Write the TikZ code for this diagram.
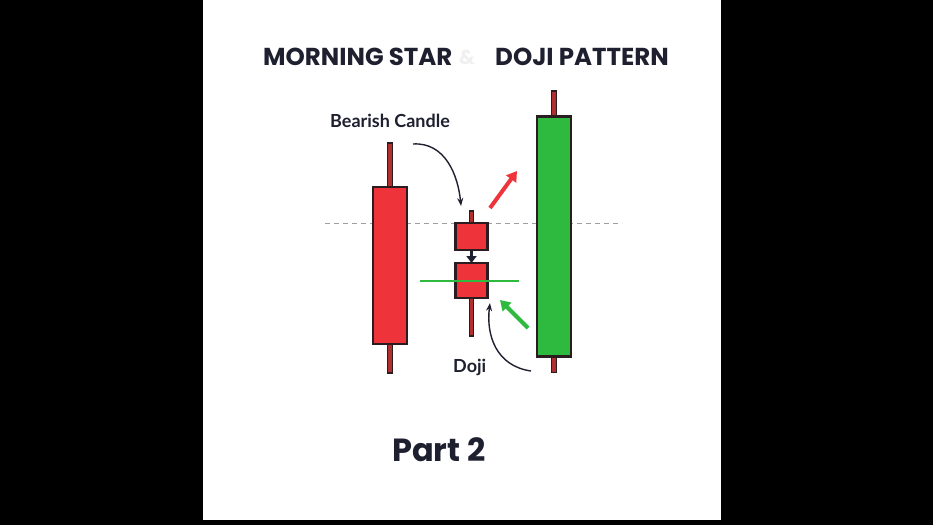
\documentclass[tikz,border=0pt]{standalone}
\usepackage{fontspec}
\usetikzlibrary{arrows.meta}
\newfontfamily\titlefont{Poppins}
\newfontfamily\labfont{Lato}
\definecolor{cred}{HTML}{EE343A}
\definecolor{cgreen}{HTML}{2DBA3E}
\definecolor{cout}{HTML}{2A1C1F}
\definecolor{ink}{HTML}{1E2030}
\definecolor{wickred}{HTML}{B0302F}
\definecolor{faint}{HTML}{F0F0F2}
\tikzset{
  body/.style={draw=cout, line width=2.2pt, inner sep=0pt, outer sep=0pt},
  wick/.style={draw=cout, line width=1.2pt, fill=wickred},
  title/.style={font=\titlefont\bfseries\fontsize{24.5}{28}\selectfont, text=ink, anchor=base west, inner sep=0pt},
  lab/.style={font=\labfont\bfseries\fontsize{18}{20}\selectfont, text=ink, anchor=base west, inner sep=0pt},
  bigarrow/.style={line width=4pt, -{Triangle[length=10pt,width=12pt]}},
  curvearrow/.style={draw=ink, line width=1.4pt, -{Stealth[length=8pt,width=6pt]}}
}
\begin{document}
\begin{tikzpicture}[x=1pt,y=-1pt]
\fill[black] (0,0) rectangle (933,525);
\fill[white] (203,0) rectangle (721,520);
% titles
\node[title] (t1) at (263,65) {MORNING STAR};
\node[title, text=faint, font=\titlefont\bfseries\fontsize{20}{24}\selectfont] (amp) at (459,64) {\&};
\node[title] (t2) at (495,65) {DOJI PATTERN};
% dashed reference line
\coordinate (dl) at (325,223);
\coordinate (dr) at (622,223);
\draw[gray!75, line width=0.8pt, dash pattern=on 5pt off 4pt] (dl) -- (dr);
% candle 1 (bearish)
\draw[wick] (387.5,143) rectangle (392.5,373);
\node[body, fill=cred, minimum width=34pt, minimum height=157pt] (c1) at (390,265.5) {};
% candle 2 (small red)
\draw[wick] (469.5,211) rectangle (473.5,236);
\node[body, fill=cred, minimum width=32pt, minimum height=27pt] (c2) at (471.5,236.5) {};
% candle 3 (doji)
\draw[wick] (469.5,270) rectangle (473.5,336);
\node[body, fill=cred, minimum width=32pt, minimum height=35pt] (c3) at (471.5,280.5) {};
\draw[ink, line width=2.2pt, -{Triangle[length=7pt,width=10pt]}] (c2.south) -- (c3.north);
% green horizontal line
\coordinate (gl) at (420,281);
\coordinate (gr) at (519,281);
\draw[cgreen, line width=1.6pt] (gl) -- (gr);
% candle 4 (green)
\draw[wick] (551.5,91) rectangle (556.5,372.5);
\node[body, fill=cgreen, minimum width=34pt, minimum height=240pt] (c4) at (554,236.5) {};
% thick arrows
\coordinate (ra) at (490,208);
\coordinate (rb) at (517,171);
\draw[bigarrow, cred] (ra) -- (rb);
\coordinate (ga) at (528,328);
\coordinate (gb) at (500,300);
\draw[bigarrow, cgreen] (ga) -- (gb);
% labels
\node[lab] (bc) at (330,127) {Bearish Candle};
\node[lab] (dj) at (453,372) {Doji};
\node[title, font=\titlefont\bfseries\fontsize{32}{36}\selectfont] (p2) at (392,461) {Part 2};
% curved arrows
\coordinate (bcs) at (413,144);
\coordinate (bct) at (461,206);
\draw[curvearrow] (bcs) .. controls (445,142) and (458,175) .. (bct);
\coordinate (djs) at (531,371);
\coordinate (djt) at (490,303);
\draw[curvearrow] (djs) .. controls (496,366) and (486,335) .. (djt);
\end{tikzpicture}
\end{document}
